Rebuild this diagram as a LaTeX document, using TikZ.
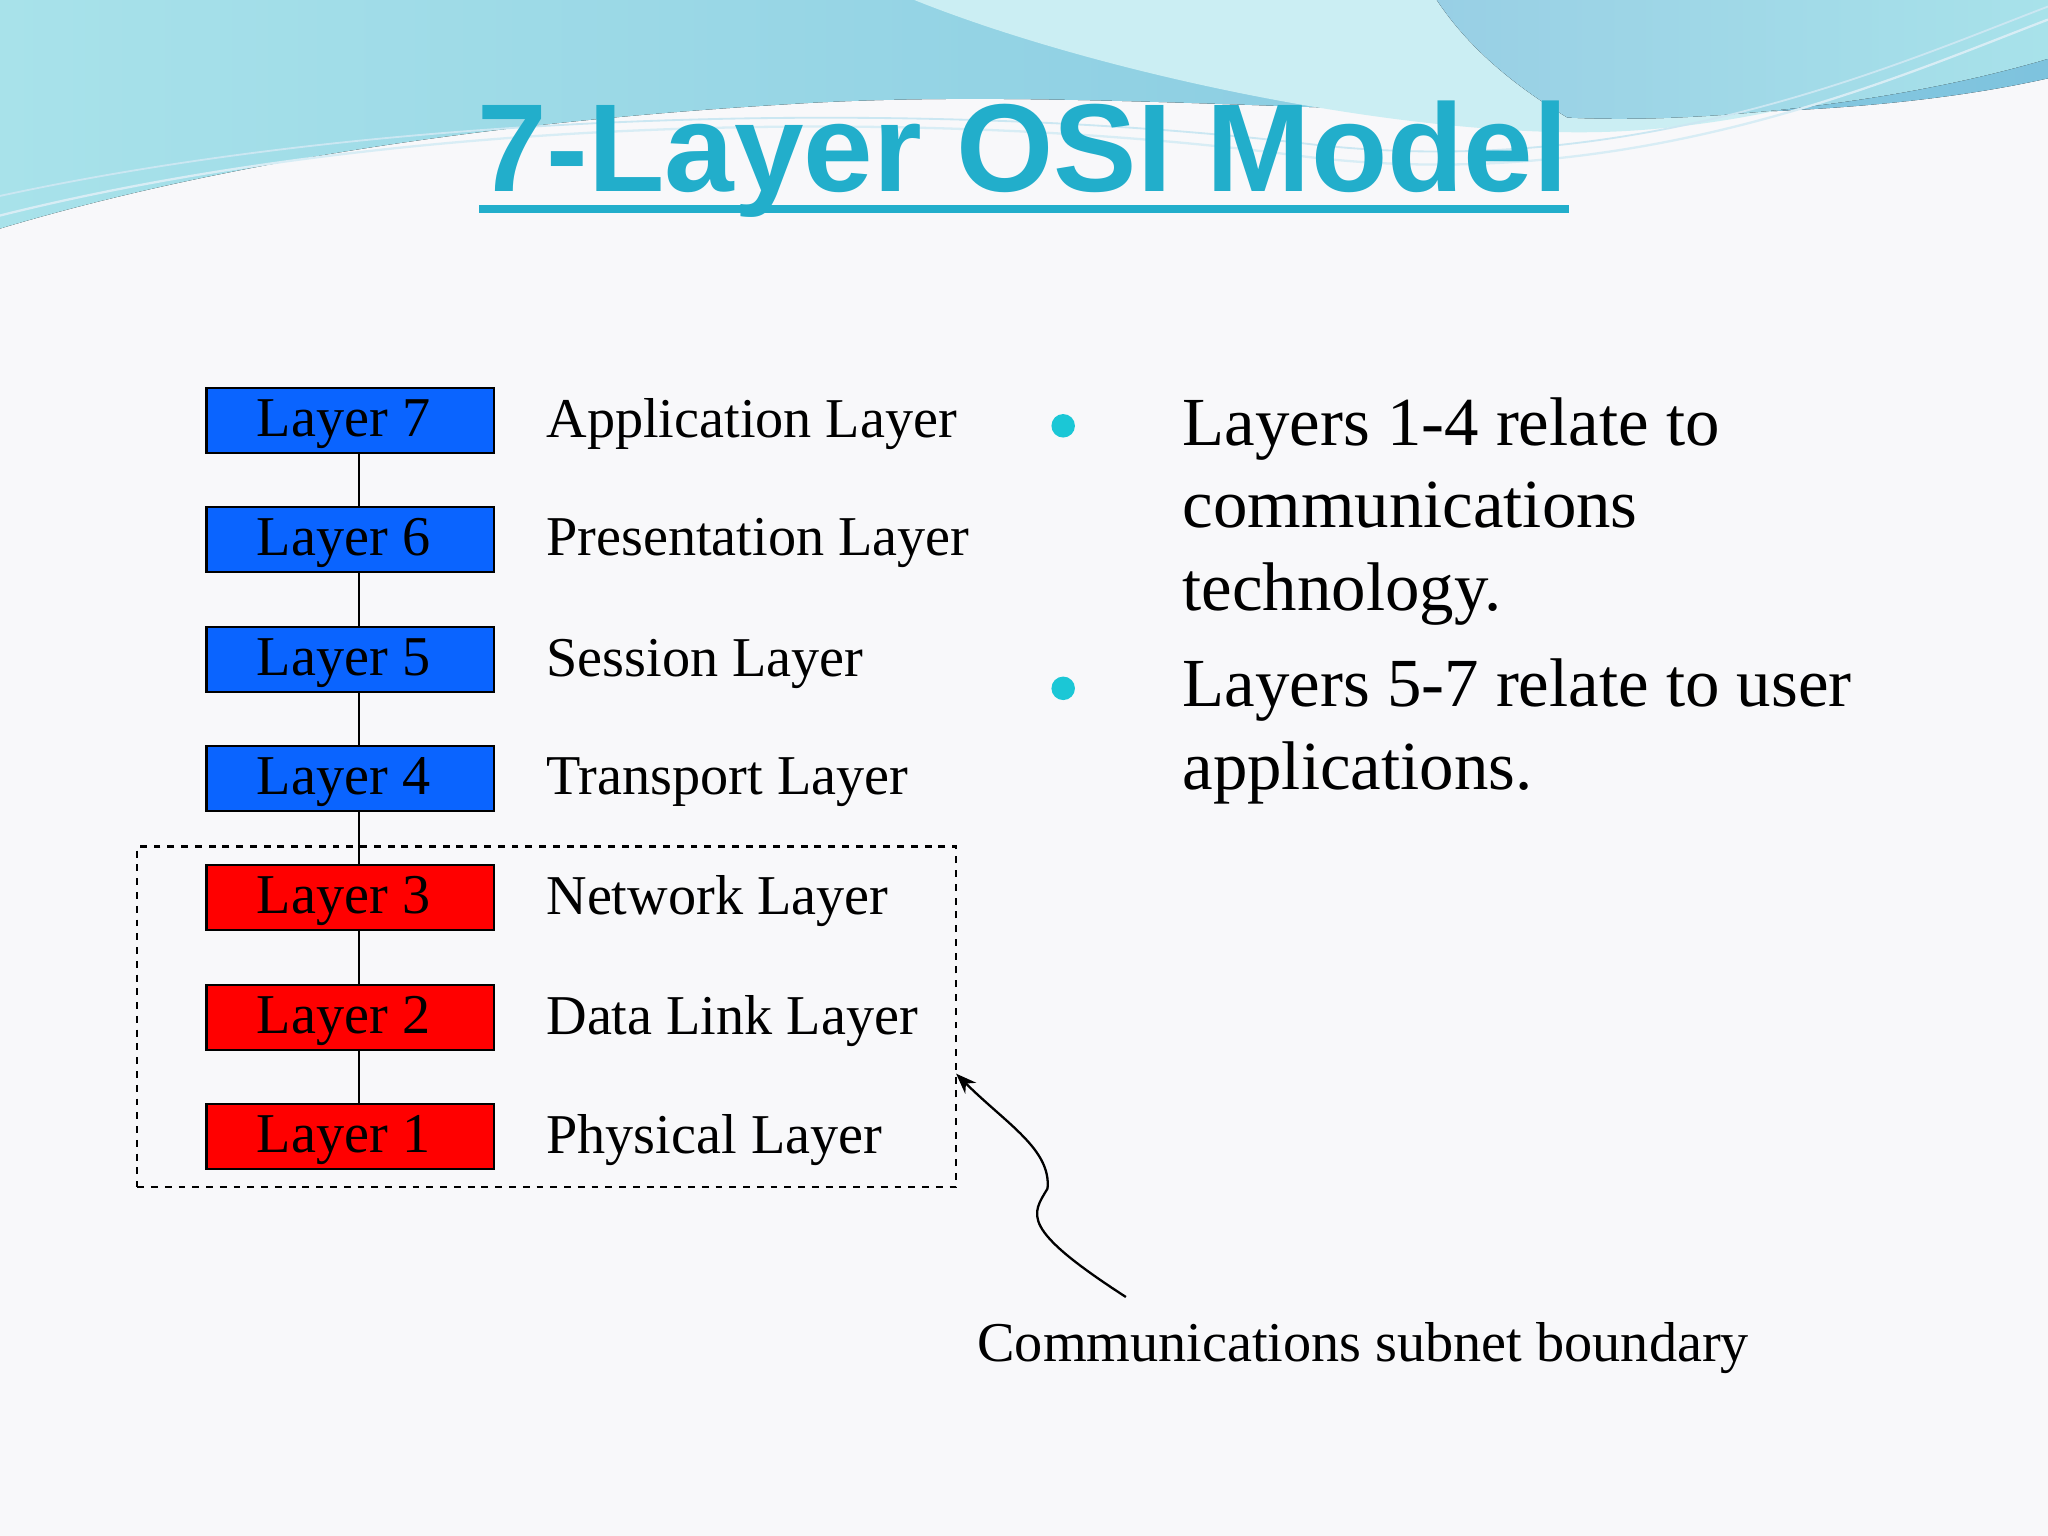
\documentclass[tikz,border=0pt]{standalone}
\usepackage{fontspec}
\setmainfont{Liberation Serif}
\newfontfamily\titlefont{Liberation Sans}
\usetikzlibrary{arrows.meta}
\definecolor{bg}{HTML}{F8F8FA}
\definecolor{ttl}{HTML}{22AECB}
\definecolor{bl}{HTML}{0A64FF}
\definecolor{rd}{HTML}{FF0000}
\definecolor{wave1}{HTML}{7EC3DE}
\definecolor{wave2}{HTML}{A8E2EA}
\definecolor{dot}{HTML}{1BC7D6}
\tikzset{
 layerbox/.style={draw=black,line width=1pt,minimum width=4.4cm,minimum height=1cm,inner sep=0pt},
 ltext/.style={font=\fontsize{24.5}{28}\selectfont,inner sep=0pt},
 lname/.style={anchor=west,font=\fontsize{24.5}{28}\selectfont,inner sep=0pt},
 btext/.style={anchor=north west,align=left,font=\fontsize{30}{36}\selectfont,inner sep=0pt}
}
\begin{document}
\begin{tikzpicture}[x=0.02cm,y=-0.02cm]
\useasboundingbox (0,0) rectangle (1568,1176);
\fill[bg] (0,0) rectangle (1568,1176);
% top waves
\fill[left color=wave2,right color=wave1] (0,0) -- (1568,0) -- (1568,60) .. controls (1300,120) and (900,60) .. (600,80) .. controls (350,95) and (150,130) .. (0,175) -- cycle;
\fill[wave2!60!white] (700,0) .. controls (850,60) and (1100,110) .. (1250,100) .. controls (1400,90) and (1500,40) .. (1568,20) -- (1568,0) -- cycle;
\fill[left color=wave1!80!white,right color=wave2] (1100,0) -- (1568,0) -- (1568,45) .. controls (1450,80) and (1300,95) .. (1200,90) .. controls (1150,60) and (1120,30) .. (1100,0);
\draw[white!70!wave1,line width=1pt] (0,165) .. controls (300,90) and (700,80) .. (1000,120) .. controls (1250,150) and (1450,60) .. (1568,15);
\draw[white!60!wave1,line width=0.8pt] (0,150) .. controls (300,85) and (700,75) .. (1000,110) .. controls (1250,140) and (1450,50) .. (1568,5);
% title
\node[font=\titlefont\bfseries\fontsize{54.5}{64}\selectfont,text=ttl,inner sep=0pt] (title) at (783,122) {7-Layer OSI Model};
\draw[ttl,line width=3.5pt] (367,160) -- (1201,160);
% connector
\coordinate (ct) at (275,322);
\coordinate (cb) at (275,870);
\draw[line width=1pt] (ct) -- (cb);
% layers
\foreach \n/\y/\c/\name in {7/322/bl/Application Layer,6/413/bl/Presentation Layer,5/505/bl/Session Layer,4/596/bl/Transport Layer,3/687/rd/Network Layer,2/779/rd/Data Link Layer,1/870/rd/Physical Layer}{
 \node[layerbox,fill=\c] (L\n) at (268,\y) {};
 \node[ltext] (T\n) at (263,\y+3) {Layer \n};
 \node[lname] (N\n) at (418,\y+3) {\name};
}
% subnet box
\node[draw,dashed,line width=1pt,minimum width=12.54cm,minimum height=5.22cm,inner sep=0pt] (sub) at (418.5,778.5) {};
\coordinate (arrtip) at (732,822);
\coordinate (arrstart) at (862,993);
\draw[-{Stealth[length=9pt]},line width=1pt] (arrstart) .. controls (780,940) and (790,930) .. (802,910) .. controls (805,880) and (770,860) .. (arrtip);
\node[anchor=west,font=\fontsize{24.5}{28}\selectfont,inner sep=0pt] (cap) at (748,1032) {Communications subnet boundary};
% bullets
\fill[dot] (814,326) circle (9);
\fill[dot] (814,527) circle (9);
\node[btext] (b1) at (905,304) {Layers 1-4 relate to\\communications\\technology.};
\node[btext] (b2) at (905,504) {Layers 5-7 relate to user\\applications.};
\end{tikzpicture}
\end{document}
